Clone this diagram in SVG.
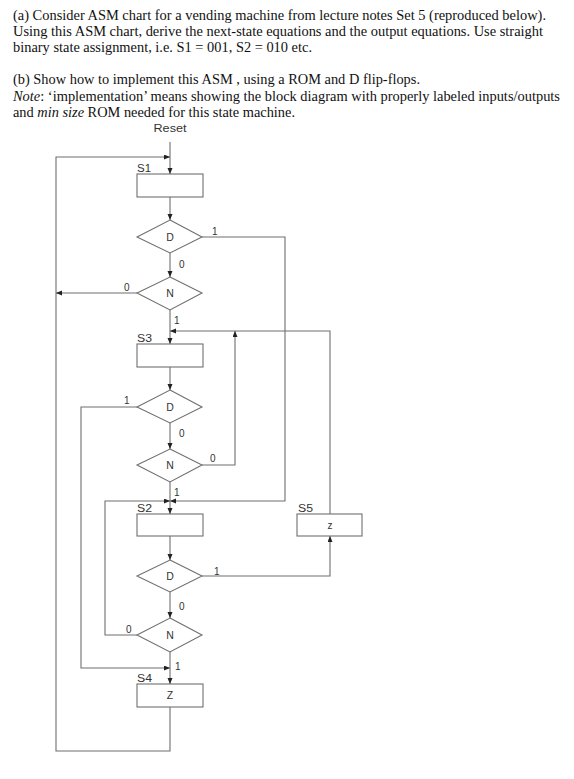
<svg xmlns="http://www.w3.org/2000/svg" width="574" height="779" viewBox="0 0 574 779">
<style>
.p{font-family:"Liberation Serif","Times New Roman",serif;font-size:14.5px;fill:#111}
.i{font-style:italic}
.box{fill:#fff;stroke:#6f6f6f;stroke-width:1.1}
.ln{fill:none;stroke:#6f6f6f;stroke-width:1.1}
.lb{font-family:"Liberation Sans",Arial,sans-serif;font-size:10px;fill:#333}
.dn{font-size:10.5px}
.c{text-anchor:middle}
</style>
<defs>
<marker id="ah" markerUnits="userSpaceOnUse" markerWidth="7" markerHeight="6" refX="6" refY="2.5" orient="auto">
<path d="M0,0 L6,2.5 L0,5 z" fill="#222"/>
</marker>
</defs>
<rect width="574" height="779" fill="#fff"/>
<g id="question">
<text class="p" x="13" y="19.5" textLength="533" lengthAdjust="spacingAndGlyphs">(a) Consider ASM chart for a vending machine from lecture notes Set 5 (reproduced below).</text>
<text class="p" x="13" y="35.8" textLength="530" lengthAdjust="spacingAndGlyphs">Using this ASM chart, derive the next-state equations and the output equations. Use straight</text>
<text class="p" x="13" y="52" textLength="299" lengthAdjust="spacingAndGlyphs">binary state assignment, i.e. S1 = 001, S2 = 010 etc.</text>
<text class="p" x="13" y="84" textLength="407" lengthAdjust="spacingAndGlyphs">(b) Show how to implement this ASM , using a ROM and D flip-flops.</text>
<text class="p" x="13" y="100.5" textLength="547" lengthAdjust="spacingAndGlyphs"><tspan class="i">Note</tspan>: ‘implementation’ means showing the block diagram with properly labeled inputs/outputs</text>
<text class="p" x="13" y="117" textLength="282" lengthAdjust="spacingAndGlyphs">and <tspan class="i">min size</tspan> ROM needed for this state machine.</text>
</g>
<g id="connectors">
<path class="ln" d="M170,142 V174" marker-end="url(#ah)"/>
<path class="ln" d="M170,707 V751 H56 V157 H170" marker-end="url(#ah)"/>
<path class="ln" d="M170,197 V220" marker-end="url(#ah)"/>
<path class="ln" d="M170,253 V277" marker-end="url(#ah)"/>
<path class="ln" d="M202,237 H285 V501 H170" marker-end="url(#ah)"/>
<path class="ln" d="M137,293 H56" marker-end="url(#ah)"/>
<path class="ln" d="M170,310 V344" marker-end="url(#ah)"/>
<path class="ln" d="M330,514 V331 H170" marker-end="url(#ah)"/>
<path class="ln" d="M170,367 V390" marker-end="url(#ah)"/>
<path class="ln" d="M137,407 H81 V668 H170" marker-end="url(#ah)"/>
<path class="ln" d="M170,423 V449" marker-end="url(#ah)"/>
<path class="ln" d="M202,465 H235 V331" marker-end="url(#ah)"/>
<path class="ln" d="M170,482 V514" marker-end="url(#ah)"/>
<path class="ln" d="M170,536 V560" marker-end="url(#ah)"/>
<path class="ln" d="M202,576 H330 V536" marker-end="url(#ah)"/>
<path class="ln" d="M170,592 V618" marker-end="url(#ah)"/>
<path class="ln" d="M137,635 H105 V501 H170" marker-end="url(#ah)"/>
<path class="ln" d="M170,652 V684" marker-end="url(#ah)"/>
<text class="lb" x="212" y="234.5">1</text>
<text class="lb" x="179" y="267.5">0</text>
<text class="lb" x="124" y="290.5">0</text>
<text class="lb" x="174" y="323.5">1</text>
<text class="lb" x="124" y="403.5">1</text>
<text class="lb" x="179" y="436.5">0</text>
<text class="lb" x="210" y="461.5">0</text>
<text class="lb" x="174" y="495.5">1</text>
<text class="lb" x="214" y="574.5">1</text>
<text class="lb" x="179" y="609.5">0</text>
<text class="lb" x="126" y="632.5">0</text>
<text class="lb" x="175" y="669.5">1</text>
</g>
<g id="reset">
<text class="lb c" x="170" y="131.5" textLength="33" lengthAdjust="spacingAndGlyphs" font-size="10.5">Reset</text>
</g>
<g id="S1">
<rect class="box" x="137" y="174" width="66" height="23"/>
<text class="lb" x="137" y="172" textLength="14" lengthAdjust="spacingAndGlyphs">S1</text>
</g>
<g id="D1">
<polygon class="box" points="170,220 202,237 170,253 137,237"/>
<text class="lb dn c" x="170" y="241">D</text>
</g>
<g id="N1">
<polygon class="box" points="170,277 202,293 170,310 137,293"/>
<text class="lb dn c" x="170" y="297">N</text>
</g>
<g id="S3">
<rect class="box" x="137" y="344" width="66" height="23"/>
<text class="lb" x="137" y="342" textLength="15" lengthAdjust="spacingAndGlyphs">S3</text>
</g>
<g id="D2">
<polygon class="box" points="170,390 202,407 170,423 137,407"/>
<text class="lb dn c" x="170" y="411">D</text>
</g>
<g id="N2">
<polygon class="box" points="170,449 202,465 170,482 137,465"/>
<text class="lb dn c" x="170" y="469">N</text>
</g>
<g id="S2">
<rect class="box" x="137" y="514" width="66" height="22"/>
<text class="lb" x="137" y="512" textLength="15" lengthAdjust="spacingAndGlyphs">S2</text>
</g>
<g id="S5">
<rect class="box" x="297" y="514" width="65" height="22"/>
<text class="lb" x="298" y="512" textLength="15" lengthAdjust="spacingAndGlyphs">S5</text>
<text class="lb c" x="330" y="528.5">z</text>
</g>
<g id="D3">
<polygon class="box" points="170,560 202,576 170,592 137,576"/>
<text class="lb dn c" x="170" y="580">D</text>
</g>
<g id="N3">
<polygon class="box" points="170,618 202,635 170,652 137,635"/>
<text class="lb dn c" x="170" y="639">N</text>
</g>
<g id="S4">
<rect class="box" x="137" y="684" width="66" height="23"/>
<text class="lb" x="137" y="682" textLength="15" lengthAdjust="spacingAndGlyphs">S4</text>
<text class="lb dn c" x="170" y="699">Z</text>
</g>
</svg>
